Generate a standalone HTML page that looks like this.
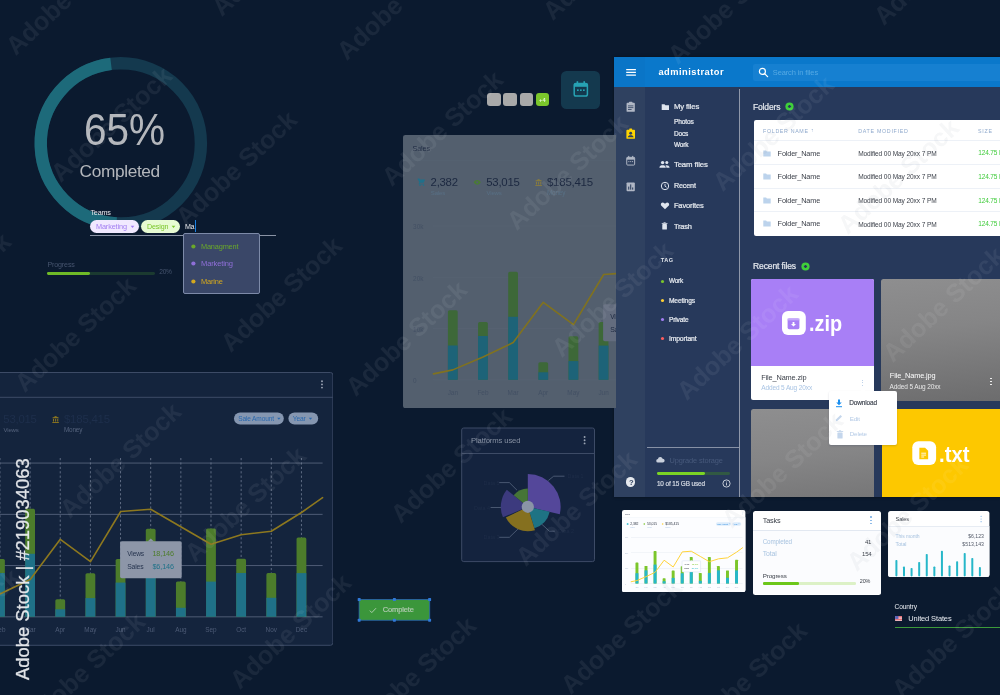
<!DOCTYPE html>
<html lang="en">
<head>
<meta charset="utf-8">
<title>Dashboard UI kit</title>
<style>
html,body{margin:0;padding:0;background:#0b1a2f;}
body{width:1000px;height:695px;overflow:hidden;font-family:"Liberation Sans",sans-serif;}
#root{position:relative;width:1000px;height:695px;overflow:hidden;background:#0b1a2f;}
.abs{position:absolute;display:block;}
.t{position:absolute;white-space:nowrap;font-family:"Liberation Sans",sans-serif;}
svg text{font-family:"Liberation Sans",sans-serif;}
.wm{position:absolute;z-index:10;width:200px;height:32px;text-align:center;white-space:nowrap;font-family:"Liberation Sans",sans-serif;font-weight:700;font-size:25.4px;line-height:32px;color:#ffffff;opacity:0.06;transform:rotate(-43deg);letter-spacing:-0.1px;pointer-events:none;}
.wd{color:#10203a;opacity:0.035;}
</style>
</head>
<body>
<div id="root">
<svg class="abs" style="left:0;top:0" width="260" height="260" viewBox="0 0 260 260"><circle cx="120.8" cy="143.4" r="80.1" fill="none" stroke="#14394e" stroke-width="12.4"/><path d="M116.61 223.39A80.10 80.10 0 0 1 111.04 63.90" fill="none" stroke="#1d6a7a" stroke-width="12.4"/></svg>
<div class="t" style="top:106px;font-size:43.50px;line-height:48px;color:#b4b7bc;left:84.10px;transform-origin:0 50%;transform:scaleX(0.932);">65%</div>
<div class="t" style="top:161px;font-size:17.25px;line-height:20px;color:#b4b7bc;left:79.60px;letter-spacing:-0.353px;">Completed</div>
<div class="t" style="top:208px;font-size:7.24px;line-height:9px;color:#e8eaee;left:90.40px;letter-spacing:-0.181px;">Teams</div>
<div class="abs" style="left:90.00px;top:219.60px;width:49.00px;height:13.60px;background:#f1e9ff;border-radius:6.8px;"></div>
<div class="t" style="top:222px;font-size:7.31px;line-height:9px;color:#a27ef2;left:96.00px;letter-spacing:-0.137px;">Marketing</div>
<svg class="abs" style="left:130px;top:225px" width="5" height="4" viewBox="0 0 5 4"><path d="M0.700 0.800h3.600l-1.800 2.200z" fill="#a27ef2"/></svg>
<div class="abs" style="left:141.00px;top:219.60px;width:39.00px;height:13.60px;background:#e7fbd2;border-radius:6.8px;"></div>
<div class="t" style="top:223px;font-size:7.15px;line-height:8px;color:#7bc62b;left:147.00px;letter-spacing:-0.151px;">Design</div>
<svg class="abs" style="left:171px;top:225px" width="5" height="4" viewBox="0 0 5 4"><path d="M0.700 0.800h3.600l-1.800 2.200z" fill="#7bc62b"/></svg>
<div class="t" style="top:223px;font-size:7.15px;line-height:8px;color:#e8eaee;left:185.00px;letter-spacing:-0.333px;">Ma</div>
<div class="abs" style="left:195.20px;top:219.80px;width:1.00px;height:12.60px;background:#1a80e0;"></div>
<div class="abs" style="left:90.00px;top:235.20px;width:186.00px;height:0.90px;background:#8a93a5;"></div>
<div class="abs" style="left:183.20px;top:233.20px;width:77.20px;height:60.60px;background:#3a4768;border:1px solid #7d8aa8;border-radius:2px;box-sizing:border-box;"></div>
<svg class="abs" style="left:190px;top:243.0px" width="7" height="7" viewBox="0 0 7 7"><circle cx="3.4" cy="3.500" r="2.100" fill="#6aa82a"/></svg>
<div class="t" style="top:242px;font-size:7.35px;line-height:9px;color:#6aa82a;left:201.00px;letter-spacing:-0.164px;">Managment</div>
<svg class="abs" style="left:190px;top:260.2px" width="7" height="7" viewBox="0 0 7 7"><circle cx="3.4" cy="3.500" r="2.100" fill="#8f6fd8"/></svg>
<div class="t" style="top:259px;font-size:7.54px;line-height:9px;color:#8f6fd8;left:201.00px;letter-spacing:-0.138px;">Marketing</div>
<svg class="abs" style="left:190px;top:277.6px" width="7" height="7" viewBox="0 0 7 7"><circle cx="3.4" cy="3.500" r="2.100" fill="#d4a81e"/></svg>
<div class="t" style="top:277px;font-size:7.45px;line-height:9px;color:#d4a81e;left:201.00px;letter-spacing:-0.155px;">Marine</div>
<div class="t" style="top:261px;font-size:7.11px;line-height:8px;color:#46546e;left:47.40px;letter-spacing:-0.136px;">Progress</div>
<div class="abs" style="left:47.40px;top:272.20px;width:108.00px;height:2.80px;background:#1b3a30;border-radius:1.4px;"></div>
<div class="abs" style="left:47.40px;top:272.20px;width:42.80px;height:2.80px;background:#6fba27;border-radius:1.4px;"></div>
<div class="t" style="top:268px;font-size:6.62px;line-height:7px;color:#46546e;left:159.20px;letter-spacing:-0.225px;">20%</div>
<div class="abs" style="left:487.10px;top:92.80px;width:13.80px;height:13.60px;background:#a9a9a9;border-radius:3px;"></div>
<div class="abs" style="left:503.30px;top:92.80px;width:13.80px;height:13.60px;background:#a9a9a9;border-radius:3px;"></div>
<div class="abs" style="left:519.50px;top:92.80px;width:13.80px;height:13.60px;background:#a9a9a9;border-radius:3px;"></div>
<div class="abs" style="left:535.70px;top:92.80px;width:13.60px;height:13.60px;background:#7bc62b;border-radius:3px;"></div>
<div class="t" style="top:97px;font-size:5.60px;line-height:6px;color:#e9f7d8;left:538.90px;letter-spacing:0.415px;font-weight:700;">+4</div>
<div class="abs" style="left:561.40px;top:70.70px;width:38.20px;height:38.20px;background:#14394e;border-radius:5.5px;"></div>
<svg class="abs" style="left:572px;top:80px" width="18" height="19" viewBox="0 0 18 19"><rect x="2.2" y="3.4" width="13.2" height="12.6" rx="1.8" fill="none" stroke="#27a2b3" stroke-width="1.5"/><rect x="2.2" y="3.4" width="13.2" height="3.4" fill="#27a2b3"/><rect x="4.6" y="1.2" width="1.6" height="3" fill="#27a2b3"/><rect x="11.4" y="1.2" width="1.6" height="3" fill="#27a2b3"/><rect x="5" y="9.4" width="1.7" height="1.6" fill="#27a2b3"/><rect x="8" y="9.4" width="1.7" height="1.6" fill="#27a2b3"/><rect x="11" y="9.4" width="1.7" height="1.6" fill="#27a2b3"/></svg>
<svg class="abs" style="left:-79.00px;top:372.30px" width="412.40" height="273.80" viewBox="0 0 412.4 273.8">
<rect x="0.5" y="0.5" width="411.4" height="272.8" rx="2.5" fill="#14243d" stroke="#3d4b66" stroke-width="1"/>
<text x="9.60" y="15.66" font-size="7.24" fill="#8b95a7" letter-spacing="-0.153">Sales</text>
<rect x="0" y="24.8" width="412.4" height="1" fill="#3d4b66"/>
<circle cx="401" cy="9.2" r="0.95" fill="#9aa3b3"/>
<circle cx="401" cy="12.4" r="0.95" fill="#9aa3b3"/>
<circle cx="401" cy="15.6" r="0.95" fill="#9aa3b3"/>
<g transform="translate(-1.0 0)">
<g fill="#1f6f86" transform="translate(18.6 47.2) scale(0.78) translate(-18.8 -47.2)"><path d="M14.2 42.4h1.9l0.6 1.5h6.6l-1.9 4.1h-4.4l-0.6 1.1h5.7v0.9h-6.3c-0.7 0-1-0.7-0.7-1.2l0.8-1.5-2-4h-0.9z"/><circle cx="16.7" cy="51.3" r="0.9"/><circle cx="21.3" cy="51.3" r="0.9"/></g>
<g transform="translate(74.2 47.3) scale(0.74) translate(-74.4 -47)"><path d="M69.6 47c1.1-2.2 2.9-3.2 4.8-3.2s3.7 1 4.8 3.2c-1.1 2.2-2.9 3.200-4.8 3.200s-3.700-1-4.800-3.200z" fill="#4a7a2c"/><circle cx="74.4" cy="47" r="1.500" fill="#14243d"/></g>
<g fill="#8a7420" transform="translate(135.6 47.400) scale(0.800) translate(-135.600 -47.300)"><path d="M131.500 45.200l4.100-2.300 4.100 2.300v0.800h-8.200z"/><rect x="132.300" y="46.600" width="1.300" height="3.400"/><rect x="134.950" y="46.600" width="1.300" height="3.400"/><rect x="137.600" y="46.600" width="1.300" height="3.400"/><rect x="131.500" y="50.600" width="8.200" height="1.200"/></g>
<text x="27.60" y="50.65" font-size="11.33" fill="#1e2f4c" letter-spacing="-0.238">2,382</text>
<text x="83.30" y="50.67" font-size="11.37" fill="#1e2f4c" letter-spacing="-0.235">53,015</text>
<text x="144.00" y="50.70" font-size="11.46" fill="#1e2f4c" letter-spacing="-0.229">$185,415</text>
<text x="27.80" y="60.04" font-size="6.00" fill="#55637d" letter-spacing="-0.127">Sales</text>
<text x="83.40" y="60.06" font-size="6.05" fill="#55637d" letter-spacing="-0.132">Views</text>
<text x="144.00" y="60.17" font-size="6.38" fill="#55637d" letter-spacing="-0.162">Money</text>
</g>
<rect x="313" y="40.4" width="49.8" height="12.2" rx="6.1" fill="#8596b0"/>
<rect x="367.4" y="40.4" width="29.8" height="12.2" rx="6.1" fill="#8596b0"/>
<text x="317.20" y="48.83" font-size="6.57" fill="#2a68ad" letter-spacing="-0.126">Sale Amount</text>
<text x="371.80" y="48.86" font-size="6.66" fill="#2a68ad" letter-spacing="-0.152">Year</text>
<path d="M356.2 45.8h3.4l-1.7 2z" fill="#2a68ad"/>
<path d="M387.8 45.8h3.4l-1.7 2z" fill="#2a68ad"/>
<rect x="30" y="90.60" width="371.6" height="0.9" fill="#55627b"/>
<text x="10.10" y="94.38" font-size="6.40" fill="#4d5b76">30k</text>
<rect x="30" y="141.87" width="371.6" height="0.9" fill="#55627b"/>
<text x="10.10" y="145.65" font-size="6.40" fill="#4d5b76">20k</text>
<rect x="30" y="193.14" width="371.6" height="0.9" fill="#55627b"/>
<text x="10.10" y="196.92" font-size="6.40" fill="#4d5b76">10k</text>
<rect x="30" y="244.41" width="371.6" height="0.9" fill="#55627b"/>
<text x="10.10" y="248.19" font-size="6.40" fill="#4d5b76">0</text>
<line x1="48.80" y1="86" x2="48.80" y2="244.8" stroke="#717d94" stroke-width="0.8" stroke-dasharray="2.2 2.2"/>
<line x1="78.95" y1="86" x2="78.95" y2="244.8" stroke="#717d94" stroke-width="0.8" stroke-dasharray="2.2 2.2"/>
<line x1="109.10" y1="86" x2="109.10" y2="244.8" stroke="#717d94" stroke-width="0.8" stroke-dasharray="2.2 2.2"/>
<line x1="139.25" y1="86" x2="139.25" y2="244.8" stroke="#717d94" stroke-width="0.8" stroke-dasharray="2.2 2.2"/>
<line x1="169.40" y1="86" x2="169.40" y2="244.8" stroke="#717d94" stroke-width="0.8" stroke-dasharray="2.2 2.2"/>
<line x1="199.55" y1="86" x2="199.55" y2="244.8" stroke="#717d94" stroke-width="0.8" stroke-dasharray="2.2 2.2"/>
<line x1="229.70" y1="86" x2="229.70" y2="244.8" stroke="#717d94" stroke-width="0.8" stroke-dasharray="2.2 2.2"/>
<line x1="259.85" y1="86" x2="259.85" y2="244.8" stroke="#717d94" stroke-width="0.8" stroke-dasharray="2.2 2.2"/>
<line x1="290.00" y1="86" x2="290.00" y2="244.8" stroke="#717d94" stroke-width="0.8" stroke-dasharray="2.2 2.2"/>
<line x1="320.15" y1="86" x2="320.15" y2="244.8" stroke="#717d94" stroke-width="0.8" stroke-dasharray="2.2 2.2"/>
<line x1="350.30" y1="86" x2="350.30" y2="244.8" stroke="#717d94" stroke-width="0.8" stroke-dasharray="2.2 2.2"/>
<line x1="380.45" y1="86" x2="380.45" y2="244.8" stroke="#717d94" stroke-width="0.8" stroke-dasharray="2.2 2.2"/>
<path d="M43.90 244.80v-68.00a1.6 1.6 0 0 1 1.6-1.6h6.60a1.6 1.6 0 0 1 1.6 1.6v68.00z" fill="#4c7c2b"/>
<rect x="43.90" y="210.50" width="9.80" height="34.30" fill="#1f7188"/>
<path d="M74.05 244.80v-56.30a1.6 1.6 0 0 1 1.6-1.6h6.60a1.6 1.6 0 0 1 1.6 1.6v56.30z" fill="#4c7c2b"/>
<rect x="74.05" y="201.00" width="9.80" height="43.80" fill="#1f7188"/>
<path d="M104.20 244.80v-106.40a1.6 1.6 0 0 1 1.6-1.6h6.60a1.6 1.6 0 0 1 1.6 1.6v106.40z" fill="#4c7c2b"/>
<rect x="104.20" y="181.80" width="9.80" height="63.00" fill="#1f7188"/>
<path d="M134.35 244.80v-16.00a1.6 1.6 0 0 1 1.6-1.6h6.60a1.6 1.6 0 0 1 1.6 1.6v16.00z" fill="#4c7c2b"/>
<rect x="134.35" y="237.30" width="9.80" height="7.50" fill="#1f7188"/>
<path d="M164.50 244.80v-42.00a1.6 1.6 0 0 1 1.6-1.6h6.60a1.6 1.6 0 0 1 1.6 1.6v42.00z" fill="#4c7c2b"/>
<rect x="164.50" y="226.10" width="9.80" height="18.70" fill="#1f7188"/>
<path d="M194.65 244.80v-56.20a1.6 1.6 0 0 1 1.6-1.6h6.60a1.6 1.6 0 0 1 1.6 1.6v56.20z" fill="#4c7c2b"/>
<rect x="194.65" y="210.60" width="9.80" height="34.20" fill="#1f7188"/>
<path d="M224.80 244.80v-86.40a1.6 1.6 0 0 1 1.6-1.6h6.60a1.6 1.6 0 0 1 1.6 1.6v86.40z" fill="#4c7c2b"/>
<rect x="224.80" y="205.80" width="9.80" height="39.00" fill="#1f7188"/>
<path d="M254.95 244.80v-33.70a1.6 1.6 0 0 1 1.6-1.6h6.60a1.6 1.6 0 0 1 1.6 1.6v33.70z" fill="#4c7c2b"/>
<rect x="254.95" y="235.80" width="9.80" height="9.00" fill="#1f7188"/>
<path d="M285.10 244.80v-86.70a1.6 1.6 0 0 1 1.6-1.6h6.60a1.6 1.6 0 0 1 1.6 1.6v86.70z" fill="#4c7c2b"/>
<rect x="285.10" y="209.60" width="9.80" height="35.20" fill="#1f7188"/>
<path d="M315.25 244.80v-56.40a1.6 1.6 0 0 1 1.6-1.6h6.60a1.6 1.6 0 0 1 1.6 1.6v56.40z" fill="#4c7c2b"/>
<rect x="315.25" y="201.00" width="9.80" height="43.80" fill="#1f7188"/>
<path d="M345.40 244.80v-42.10a1.6 1.6 0 0 1 1.6-1.6h6.60a1.6 1.6 0 0 1 1.6 1.6v42.10z" fill="#4c7c2b"/>
<rect x="345.40" y="225.80" width="9.80" height="19.00" fill="#1f7188"/>
<path d="M375.55 244.80v-77.80a1.6 1.6 0 0 1 1.6-1.6h6.60a1.6 1.6 0 0 1 1.6 1.6v77.80z" fill="#4c7c2b"/>
<rect x="375.55" y="201.10" width="9.80" height="43.70" fill="#1f7188"/>
<text x="48.80" y="259.78" font-size="6.40" fill="#4d5b76" text-anchor="middle">Jan</text>
<text x="78.95" y="259.78" font-size="6.40" fill="#4d5b76" text-anchor="middle">Feb</text>
<text x="109.10" y="259.78" font-size="6.40" fill="#4d5b76" text-anchor="middle">Mar</text>
<text x="139.25" y="259.78" font-size="6.40" fill="#4d5b76" text-anchor="middle">Apr</text>
<text x="169.40" y="259.78" font-size="6.40" fill="#4d5b76" text-anchor="middle">May</text>
<text x="199.55" y="259.78" font-size="6.40" fill="#4d5b76" text-anchor="middle">Jun</text>
<text x="229.70" y="259.78" font-size="6.40" fill="#4d5b76" text-anchor="middle">Jul</text>
<text x="259.85" y="259.78" font-size="6.40" fill="#4d5b76" text-anchor="middle">Aug</text>
<text x="290.00" y="259.78" font-size="6.40" fill="#4d5b76" text-anchor="middle">Sep</text>
<text x="320.15" y="259.78" font-size="6.40" fill="#4d5b76" text-anchor="middle">Oct</text>
<text x="350.30" y="259.78" font-size="6.40" fill="#4d5b76" text-anchor="middle">Nov</text>
<text x="380.45" y="259.78" font-size="6.40" fill="#4d5b76" text-anchor="middle">Dec</text>
<polyline points="30.5,238.9 48.8,234.9 79.0,222.0 109.2,207.6 139.3,167.3 169.5,189.7 199.7,139.5 229.7,137.3 259.8,154.7 290.0,172.2 320.1,162.7 350.3,159.3 380.5,140.5 401.6,125.7" fill="none" stroke="#8d781f" stroke-width="1.6" stroke-linejoin="round" stroke-linecap="round"/>
<path d="M226.6 169.4l3.2-3 3.2 3z" fill="#8d96a8"/>
<rect x="199.1" y="169.2" width="61.6" height="37" rx="1.8" fill="#8d96a8"/>
<text x="206.20" y="183.86" font-size="6.64" fill="#26344e" letter-spacing="-0.148">Views</text>
<text x="206.20" y="196.92" font-size="6.83" fill="#26344e" letter-spacing="-0.146">Sales</text>
<text x="231.50" y="184.08" font-size="7.28" fill="#4d7c2b" letter-spacing="-0.153">18,146</text>
<text x="231.50" y="197.08" font-size="7.28" fill="#1f7289" letter-spacing="-0.153">$6,146</text>
</svg>
<svg class="abs" style="left:403.20px;top:135.10px;z-index:3" width="213.00" height="273.20" viewBox="0 0 213.0 273.2">
<rect x="0" y="0" width="411.0" height="273.2" rx="2.5" fill="#535f6e"/>
<text x="9.60" y="15.66" font-size="7.24" fill="#1c2840" letter-spacing="-0.153">Sales</text>
<rect x="0" y="24.8" width="411.0" height="1" fill="#566271"/>
<circle cx="401" cy="9.2" r="0.95" fill="#535f6e"/>
<circle cx="401" cy="12.4" r="0.95" fill="#535f6e"/>
<circle cx="401" cy="15.6" r="0.95" fill="#535f6e"/>
<g transform="translate(0.0 0)">
<g fill="#21708a" transform="translate(18.6 47.2) scale(0.78) translate(-18.8 -47.2)"><path d="M14.2 42.4h1.9l0.6 1.5h6.6l-1.9 4.1h-4.4l-0.6 1.1h5.7v0.9h-6.3c-0.7 0-1-0.7-0.7-1.2l0.8-1.5-2-4h-0.9z"/><circle cx="16.7" cy="51.3" r="0.9"/><circle cx="21.3" cy="51.3" r="0.9"/></g>
<g transform="translate(74.2 47.3) scale(0.74) translate(-74.4 -47)"><path d="M69.6 47c1.1-2.2 2.9-3.2 4.8-3.2s3.7 1 4.8 3.2c-1.1 2.2-2.9 3.200-4.8 3.200s-3.700-1-4.800-3.200z" fill="#4b7b35"/><circle cx="74.4" cy="47" r="1.500" fill="#535f6e"/></g>
<g fill="#877b40" transform="translate(135.6 47.400) scale(0.800) translate(-135.600 -47.300)"><path d="M131.500 45.200l4.100-2.300 4.100 2.300v0.800h-8.200z"/><rect x="132.300" y="46.600" width="1.300" height="3.400"/><rect x="134.950" y="46.600" width="1.300" height="3.400"/><rect x="137.600" y="46.600" width="1.300" height="3.400"/><rect x="131.500" y="50.600" width="8.200" height="1.200"/></g>
<text x="27.60" y="50.65" font-size="11.33" fill="#1c2840" letter-spacing="-0.238">2,382</text>
<text x="83.30" y="50.67" font-size="11.37" fill="#1c2840" letter-spacing="-0.235">53,015</text>
<text x="144.00" y="50.70" font-size="11.46" fill="#1c2840" letter-spacing="-0.229">$185,415</text>
<text x="27.80" y="60.04" font-size="6.00" fill="#587085" letter-spacing="-0.127">Sales</text>
<text x="83.40" y="60.06" font-size="6.05" fill="#587085" letter-spacing="-0.132">Views</text>
<text x="144.00" y="60.17" font-size="6.38" fill="#587085" letter-spacing="-0.162">Money</text>
</g>
<rect x="30" y="90.60" width="371.6" height="0.8" fill="#576373"/>
<text x="10.10" y="94.38" font-size="6.40" fill="#435064">30k</text>
<rect x="30" y="141.87" width="371.6" height="0.8" fill="#576373"/>
<text x="10.10" y="145.65" font-size="6.40" fill="#435064">20k</text>
<rect x="30" y="193.14" width="371.6" height="0.8" fill="#576373"/>
<text x="10.10" y="196.92" font-size="6.40" fill="#435064">10k</text>
<rect x="30" y="244.41" width="371.6" height="0.8" fill="#576373"/>
<text x="10.10" y="248.19" font-size="6.40" fill="#435064">0</text>
<path d="M44.90 244.80v-68.00a1.6 1.6 0 0 1 1.6-1.6h6.60a1.6 1.6 0 0 1 1.6 1.6v68.00z" fill="#3d6838"/>
<rect x="44.90" y="210.50" width="9.80" height="34.30" fill="#1d6378"/>
<path d="M75.05 244.80v-56.30a1.6 1.6 0 0 1 1.6-1.6h6.60a1.6 1.6 0 0 1 1.6 1.6v56.30z" fill="#3d6838"/>
<rect x="75.05" y="201.00" width="9.80" height="43.80" fill="#1d6378"/>
<path d="M105.20 244.80v-106.40a1.6 1.6 0 0 1 1.6-1.6h6.60a1.6 1.6 0 0 1 1.6 1.6v106.40z" fill="#3d6838"/>
<rect x="105.20" y="181.80" width="9.80" height="63.00" fill="#1d6378"/>
<path d="M135.35 244.80v-16.00a1.6 1.6 0 0 1 1.6-1.6h6.60a1.6 1.6 0 0 1 1.6 1.6v16.00z" fill="#3d6838"/>
<rect x="135.35" y="237.30" width="9.80" height="7.50" fill="#1d6378"/>
<path d="M165.50 244.80v-42.00a1.6 1.6 0 0 1 1.6-1.6h6.60a1.6 1.6 0 0 1 1.6 1.6v42.00z" fill="#3d6838"/>
<rect x="165.50" y="226.10" width="9.80" height="18.70" fill="#1d6378"/>
<path d="M195.65 244.80v-56.20a1.6 1.6 0 0 1 1.6-1.6h6.60a1.6 1.6 0 0 1 1.6 1.6v56.20z" fill="#3d6838"/>
<rect x="195.65" y="210.60" width="9.80" height="34.20" fill="#1d6378"/>
<path d="M225.80 244.80v-86.40a1.6 1.6 0 0 1 1.6-1.6h6.60a1.6 1.6 0 0 1 1.6 1.6v86.40z" fill="#3d6838"/>
<rect x="225.80" y="205.80" width="9.80" height="39.00" fill="#1d6378"/>
<path d="M255.95 244.80v-33.70a1.6 1.6 0 0 1 1.6-1.6h6.60a1.6 1.6 0 0 1 1.6 1.6v33.70z" fill="#3d6838"/>
<rect x="255.95" y="235.80" width="9.80" height="9.00" fill="#1d6378"/>
<path d="M286.10 244.80v-86.70a1.6 1.6 0 0 1 1.6-1.6h6.60a1.6 1.6 0 0 1 1.6 1.6v86.70z" fill="#3d6838"/>
<rect x="286.10" y="209.60" width="9.80" height="35.20" fill="#1d6378"/>
<path d="M316.25 244.80v-56.40a1.6 1.6 0 0 1 1.6-1.6h6.60a1.6 1.6 0 0 1 1.6 1.6v56.40z" fill="#3d6838"/>
<rect x="316.25" y="201.00" width="9.80" height="43.80" fill="#1d6378"/>
<path d="M346.40 244.80v-42.10a1.6 1.6 0 0 1 1.6-1.6h6.60a1.6 1.6 0 0 1 1.6 1.6v42.10z" fill="#3d6838"/>
<rect x="346.40" y="225.80" width="9.80" height="19.00" fill="#1d6378"/>
<path d="M376.55 244.80v-77.80a1.6 1.6 0 0 1 1.6-1.6h6.60a1.6 1.6 0 0 1 1.6 1.6v77.80z" fill="#3d6838"/>
<rect x="376.55" y="201.10" width="9.80" height="43.70" fill="#1d6378"/>
<text x="49.80" y="259.78" font-size="6.40" fill="#435064" text-anchor="middle">Jan</text>
<text x="79.95" y="259.78" font-size="6.40" fill="#435064" text-anchor="middle">Feb</text>
<text x="110.10" y="259.78" font-size="6.40" fill="#435064" text-anchor="middle">Mar</text>
<text x="140.25" y="259.78" font-size="6.40" fill="#435064" text-anchor="middle">Apr</text>
<text x="170.40" y="259.78" font-size="6.40" fill="#435064" text-anchor="middle">May</text>
<text x="200.55" y="259.78" font-size="6.40" fill="#435064" text-anchor="middle">Jun</text>
<text x="230.70" y="259.78" font-size="6.40" fill="#435064" text-anchor="middle">Jul</text>
<text x="260.85" y="259.78" font-size="6.40" fill="#435064" text-anchor="middle">Aug</text>
<text x="291.00" y="259.78" font-size="6.40" fill="#435064" text-anchor="middle">Sep</text>
<text x="321.15" y="259.78" font-size="6.40" fill="#435064" text-anchor="middle">Oct</text>
<text x="351.30" y="259.78" font-size="6.40" fill="#435064" text-anchor="middle">Nov</text>
<text x="381.45" y="259.78" font-size="6.40" fill="#435064" text-anchor="middle">Dec</text>
<polyline points="30.5,238.9 49.8,234.9 80.0,222.0 110.2,207.6 140.3,167.3 170.5,189.7 200.7,139.5 230.7,137.3 260.8,154.7 291.0,172.2 321.1,162.7 351.3,159.3 381.5,140.5 401.6,125.7" fill="none" stroke="#80721f" stroke-width="1.6" stroke-linejoin="round" stroke-linecap="round"/>
<path d="M227.6 169.4l3.2-3 3.2 3z" fill="#636c7e"/>
<rect x="200.1" y="169.2" width="61.6" height="37" rx="1.8" fill="#636c7e"/>
<text x="207.20" y="183.86" font-size="6.64" fill="#1c2840" letter-spacing="-0.148">Views</text>
<text x="207.20" y="196.92" font-size="6.83" fill="#1c2840" letter-spacing="-0.146">Sales</text>
<text x="232.50" y="184.08" font-size="7.28" fill="#3e6939" letter-spacing="-0.153">18,146</text>
<text x="232.50" y="197.08" font-size="7.28" fill="#1e657a" letter-spacing="-0.153">$6,146</text>
</svg>
<svg class="abs" style="left:461px;top:427px" width="135" height="136" viewBox="461 427 135 136">
<rect x="461.7" y="428" width="132.8" height="133.6" rx="2" fill="#14233e" stroke="#3d4b66" stroke-width="1"/>
<rect x="461.7" y="453" width="132.8" height="1" fill="#3d4b66"/>
<text x="471.00" y="442.82" font-size="7.70" fill="#858fa1" letter-spacing="-0.135">Platforms used</text>
<circle cx="584.6" cy="437.0" r="0.95" fill="#9aa3b3"/>
<circle cx="584.6" cy="440.2" r="0.95" fill="#9aa3b3"/>
<circle cx="584.6" cy="443.4" r="0.95" fill="#9aa3b3"/>
<g fill="none" stroke="#56647e" stroke-width="0.8"><polyline points="548.3,480.5 553.7,476.2 564.5,476.2"/><polyline points="517,490.2 509.4,482.6 499.2,482.6"/><polyline points="501.8,507.5 490.6,507.5"/><polyline points="518,529 509.4,537.3 499.2,537.3"/><polyline points="540.7,523.2 549.4,531.2 554.8,531.2"/></g>
<path d="M527.80 506.80L527.80 474.00A32.80 32.80 0 0 1 559.76 514.18Z" fill="#54479a"/>
<path d="M527.80 506.80L549.72 511.86A22.50 22.50 0 0 1 534.38 528.32Z" fill="#1e7384"/>
<path d="M527.80 506.80L534.93 530.13A24.40 24.40 0 0 1 505.87 517.50Z" fill="#85701f"/>
<path d="M527.80 506.80L502.95 517.35A27.00 27.00 0 0 1 506.82 489.81Z" fill="#3c3a7e"/>
<path d="M527.80 506.80L513.66 495.35A18.20 18.20 0 0 1 527.80 488.60Z" fill="#467537"/>
<circle cx="527.8" cy="506.8" r="6.1" fill="#8a94a6"/>
<text x="567.50" y="478.44" font-size="5.40" fill="#1e2d48">Data 1</text>
<text x="483.50" y="484.64" font-size="5.40" fill="#1e2d48">Data 5</text>
<text x="474.00" y="509.64" font-size="5.40" fill="#1e2d48">Data 4</text>
<text x="483.50" y="539.14" font-size="5.40" fill="#1e2d48">Data 3</text>
<text x="558.00" y="533.44" font-size="5.40" fill="#1e2d48">Data 2</text>
</svg>
<svg class="abs" style="left:356px;top:597px" width="77" height="27" viewBox="356 597 77 27"><rect x="359.100" y="599.500" width="70.600" height="20.800" rx="1.800" fill="#3b963b" stroke="#2c6ac4" stroke-width="0.700"/><rect x="357.7" y="598.1" width="3" height="3" rx="0.700" fill="#3079d8"/><rect x="357.7" y="618.7" width="3" height="3" rx="0.700" fill="#3079d8"/><rect x="392.9" y="598.1" width="3" height="3" rx="0.700" fill="#3079d8"/><rect x="392.9" y="618.7" width="3" height="3" rx="0.700" fill="#3079d8"/><rect x="428.1" y="598.1" width="3" height="3" rx="0.700" fill="#3079d8"/><rect x="428.1" y="618.7" width="3" height="3" rx="0.700" fill="#3079d8"/></svg>
<svg class="abs" style="left:368.6px;top:606.6px" width="8" height="7" viewBox="0 0 8 7"><path d="M0.8 3.6l2 2 4.2-4.4" fill="none" stroke="#b6d2b6" stroke-width="0.9"/></svg>
<div class="t" style="top:605px;font-size:7.50px;line-height:9px;color:#b0c9b0;left:382.80px;letter-spacing:-0.157px;-webkit-text-stroke:0.2px #b0c9b0;">Complete</div>
<div class="abs" style="left:614.00px;top:57.00px;width:386.00px;height:439.60px;background:#27395b;box-shadow:0 0 3px rgba(0,0,0,0.4);"></div>
<div class="abs" style="left:614.00px;top:57.00px;width:386.00px;height:30.00px;background:#0a78cb;"></div>
<div class="abs" style="left:614.00px;top:57.00px;width:31.00px;height:30.00px;background:#0a75c7;"></div>
<div class="abs" style="left:614.00px;top:87.00px;width:31.00px;height:409.60px;background:#2f4160;"></div>
<div class="abs" style="left:739.00px;top:88.50px;width:1.00px;height:408.10px;background:#8e97a9;"></div>
<svg class="abs" style="left:625px;top:67px" width="12" height="11" viewBox="625 67 12 11"><path d="M626.2 69.7h9.700M626.2 72.4h9.700M626.2 75.1h9.700" stroke="#fff" stroke-width="1.250"/></svg>
<div class="t" style="top:67px;font-size:9.30px;line-height:10px;color:#ffffff;left:658.40px;letter-spacing:0.481px;font-weight:700;">administrator</div>
<div class="abs" style="left:753.40px;top:63.70px;width:247.00px;height:17.10px;background:#1680d1;border-radius:2px 0 0 2px;"></div>
<svg class="abs" style="left:758px;top:67px" width="11" height="11" viewBox="0 0 11 11"><circle cx="4.4" cy="4.4" r="3" fill="none" stroke="#fff" stroke-width="1.2"/><path d="M6.6 6.6l3 3" stroke="#fff" stroke-width="1.3" stroke-linecap="round"/></svg>
<div class="t" style="top:68px;font-size:7.48px;line-height:9px;color:#55a9e4;left:772.80px;letter-spacing:-0.113px;">Search in files</div>
<svg class="abs" style="left:625.1px;top:100.9px" width="11.400" height="11.700" viewBox="0 0 12 13"><rect x="1.4" y="2" width="9.2" height="10" rx="1" fill="#b0b7c5"/><rect x="4" y="0.8" width="4" height="2.4" rx="0.8" fill="#b0b7c5"/><rect x="3" y="5" width="6" height="0.9" fill="#2f4160"/><rect x="3" y="7" width="6" height="0.9" fill="#2f4160"/><rect x="3" y="9" width="4" height="0.9" fill="#2f4160"/></svg>
<svg class="abs" style="left:625.1px;top:127.6px" width="11.400" height="11.700" viewBox="0 0 12 13"><rect x="1.2" y="2" width="9.6" height="10" rx="1" fill="#ffd400"/><rect x="4.4" y="0.6" width="3.2" height="2.4" rx="0.6" fill="#ffd400"/><circle cx="6" cy="5.8" r="1.6" fill="#2f4160"/><path d="M2.8 10.4c0-1.8 1.6-2.4 3.2-2.4s3.2 0.6 3.2 2.4z" fill="#2f4160"/></svg>
<svg class="abs" style="left:625.1px;top:154.6px" width="11.400" height="11.700" viewBox="0 0 12 13"><rect x="1.6" y="2.6" width="8.8" height="8.6" rx="1" fill="none" stroke="#b0b7c5" stroke-width="1.1"/><rect x="1.6" y="2.6" width="8.8" height="2.6" fill="#b0b7c5"/><rect x="3.2" y="1" width="1.2" height="2.2" fill="#b0b7c5"/><rect x="7.6" y="1" width="1.2" height="2.2" fill="#b0b7c5"/><rect x="3.4" y="6.8" width="1.1" height="1.1" fill="#b0b7c5"/><rect x="5.45" y="6.8" width="1.1" height="1.1" fill="#b0b7c5"/><rect x="7.5" y="6.8" width="1.1" height="1.1" fill="#b0b7c5"/></svg>
<svg class="abs" style="left:625.1px;top:180.6px" width="11.400" height="11.700" viewBox="0 0 12 13"><rect x="1.4" y="1.6" width="9.2" height="9.8" rx="1" fill="#b0b7c5"/><rect x="3.2" y="6.2" width="1.2" height="3.4" fill="#2f4160"/><rect x="5.4" y="3.8" width="1.2" height="5.8" fill="#2f4160"/><rect x="7.6" y="7.2" width="1.2" height="2.4" fill="#2f4160"/></svg>
<div class="abs" style="left:626.2px;top:477.4px;width:9.2px;height:9.2px;border-radius:50%;background:#e6e9ee;"></div>
<div class="t" style="top:478px;font-size:7.60px;line-height:9px;color:#2f4160;left:629.00px;font-weight:700;">?</div>
<svg class="abs" style="left:660.6px;top:102.8px" width="8.800" height="8" viewBox="0 0 10 9"><path d="M0.8 1.4h3.2l1 1h4.2v5.4h-8.4z" fill="#dfe5ef"/></svg>
<div class="t" style="top:102px;font-size:7.76px;line-height:9px;color:#e4e8ee;left:673.90px;letter-spacing:-0.129px;-webkit-text-stroke:0.22px #e4e8ee;">My files</div>
<div class="t" style="top:118px;font-size:6.65px;line-height:7px;color:#e4e8ee;left:673.90px;letter-spacing:-0.141px;-webkit-text-stroke:0.22px #e4e8ee;">Photos</div>
<div class="t" style="top:130px;font-size:6.54px;line-height:7px;color:#e4e8ee;left:673.90px;letter-spacing:-0.167px;-webkit-text-stroke:0.22px #e4e8ee;">Docs</div>
<div class="t" style="top:141px;font-size:6.53px;line-height:7px;color:#e4e8ee;left:673.90px;letter-spacing:-0.172px;-webkit-text-stroke:0.22px #e4e8ee;">Work</div>
<svg class="abs" style="left:659.4px;top:160px" width="11" height="9" viewBox="0 0 11 9"><circle cx="3.6" cy="2.6" r="1.7" fill="#dfe5ef"/><circle cx="7.8" cy="2.6" r="1.5" fill="#dfe5ef"/><path d="M0.4 7.8c0-2 1.6-2.6 3.2-2.6s3.2 0.6 3.2 2.6z" fill="#dfe5ef"/><path d="M7.4 7.8c0-1.2-0.4-2-1-2.5 1.8-0.4 4.2 0.2 4.2 2.5z" fill="#dfe5ef"/></svg>
<div class="t" style="top:160px;font-size:7.82px;line-height:9px;color:#e4e8ee;left:673.90px;letter-spacing:-0.134px;-webkit-text-stroke:0.22px #e4e8ee;">Team files</div>
<svg class="abs" style="left:660px;top:180.6px" width="10" height="10" viewBox="0 0 10 10"><circle cx="5" cy="5" r="3.7" fill="none" stroke="#dfe5ef" stroke-width="1"/><path d="M5 2.8v2.4l1.6 1" fill="none" stroke="#dfe5ef" stroke-width="0.9"/></svg>
<div class="t" style="top:181px;font-size:7.22px;line-height:9px;color:#e4e8ee;left:673.90px;letter-spacing:-0.155px;-webkit-text-stroke:0.22px #e4e8ee;">Recent</div>
<svg class="abs" style="left:660px;top:201.4px" width="10" height="9" viewBox="0 0 10 9"><path d="M5 8.2l-3.6-3.4c-1.6-1.8 0.6-4.4 3-2.6l0.6 0.5 0.6-0.5c2.4-1.8 4.600 0.800 3 2.6z" fill="#dfe5ef"/></svg>
<div class="t" style="top:201px;font-size:7.50px;line-height:9px;color:#e4e8ee;left:673.90px;letter-spacing:-0.130px;-webkit-text-stroke:0.22px #e4e8ee;">Favorites</div>
<svg class="abs" style="left:661.2px;top:222.2px" width="7.200" height="8" viewBox="0 0 9 10"><rect x="1.6" y="2.6" width="5.8" height="6.8" rx="0.8" fill="#dfe5ef"/><rect x="0.9" y="1.2" width="7.2" height="1" fill="#dfe5ef"/><rect x="3.2" y="0.4" width="2.6" height="1" fill="#dfe5ef"/></svg>
<div class="t" style="top:222px;font-size:7.44px;line-height:9px;color:#e4e8ee;left:673.90px;letter-spacing:-0.161px;-webkit-text-stroke:0.22px #e4e8ee;">Trash</div>
<div class="t" style="top:257px;font-size:5.60px;line-height:6px;color:#e2e6ec;left:660.80px;letter-spacing:0.497px;font-weight:700;">TAG</div>
<svg class="abs" style="left:660px;top:278.7px" width="5" height="5" viewBox="0 0 5 5"><circle cx="2.5" cy="2.5" r="1.55" fill="#7bc62b"/></svg>
<div class="t" style="top:277px;font-size:6.44px;line-height:7px;color:#e4e8ee;left:668.90px;letter-spacing:-0.170px;-webkit-text-stroke:0.22px #e4e8ee;">Work</div>
<svg class="abs" style="left:660px;top:298.0px" width="5" height="5" viewBox="0 0 5 5"><circle cx="2.5" cy="2.5" r="1.55" fill="#ffcf33"/></svg>
<div class="t" style="top:297px;font-size:6.68px;line-height:7px;color:#e4e8ee;left:668.90px;letter-spacing:-0.129px;-webkit-text-stroke:0.22px #e4e8ee;">Meetings</div>
<svg class="abs" style="left:660px;top:316.8px" width="5" height="5" viewBox="0 0 5 5"><circle cx="2.5" cy="2.5" r="1.55" fill="#a27ef2"/></svg>
<div class="t" style="top:316px;font-size:6.55px;line-height:7px;color:#e4e8ee;left:668.90px;letter-spacing:-0.114px;-webkit-text-stroke:0.22px #e4e8ee;">Private</div>
<svg class="abs" style="left:660px;top:335.8px" width="5" height="5" viewBox="0 0 5 5"><circle cx="2.5" cy="2.5" r="1.55" fill="#ff5d5d"/></svg>
<div class="t" style="top:335px;font-size:6.81px;line-height:7px;color:#e4e8ee;left:668.90px;letter-spacing:-0.121px;-webkit-text-stroke:0.22px #e4e8ee;">Important</div>
<div class="abs" style="left:647.00px;top:446.90px;width:92.00px;height:1.00px;background:#8791a5;"></div>
<svg class="abs" style="left:656.4px;top:457.3px" width="8.700" height="6.100" viewBox="0 0 10 7"><path d="M2.4 6.4a2 2 0 0 1-0.2-4 2.8 2.8 0 0 1 5.400-0.400 2.200 2.200 0 0 1 0.200 4.400z" fill="#c9d0dc"/></svg>
<div class="t" style="top:456px;font-size:7.42px;line-height:9px;color:#47597b;left:669.60px;letter-spacing:-0.134px;">Upgrade storage</div>
<div class="abs" style="left:656.80px;top:472.00px;width:73.20px;height:2.80px;background:#315943;border-radius:1.4px;"></div>
<div class="abs" style="left:656.80px;top:472.00px;width:48.20px;height:2.80px;background:#7bd425;border-radius:1.4px;"></div>
<div class="t" style="top:480px;font-size:6.42px;line-height:7px;color:#d5dae3;left:656.90px;letter-spacing:-0.111px;-webkit-text-stroke:0.2px #d5dae3;">10 of 15 GB used</div>
<svg class="abs" style="left:721.6px;top:479.1px" width="9" height="9" viewBox="0 0 9 9"><circle cx="4.500" cy="4.500" r="3.600" fill="none" stroke="#d5dae3" stroke-width="0.900"/><rect x="4.050" y="4.100" width="0.900" height="2.300" fill="#d5dae3"/><rect x="4.050" y="2.600" width="0.900" height="0.900" fill="#d5dae3"/></svg>
<div class="t" style="top:102px;font-size:8.50px;line-height:10px;color:#e4e8ee;left:753.00px;letter-spacing:-0.157px;-webkit-text-stroke:0.22px #e4e8ee;">Folders</div>
<svg class="abs" style="left:785.20px;top:102.00px" width="9" height="9" viewBox="0 0 9 9"><circle cx="4.500" cy="4.500" r="4.100" fill="#3fd13a"/><path d="M4.500 2.900v3.200M2.900 4.500h3.200" stroke="#27395b" stroke-width="1.300"/></svg>
<div class="abs" style="left:753.50px;top:120.00px;width:260.00px;height:115.60px;background:#ffffff;border-radius:2px;"></div>
<div class="t" style="top:128px;font-size:5.30px;line-height:6px;color:#8fa9cc;left:763.10px;letter-spacing:0.662px;">FOLDER NAME</div>
<div class="t" style="top:127px;font-size:5.00px;line-height:6px;color:#8fa9cc;left:811.00px;">↑</div>
<div class="t" style="top:128px;font-size:5.30px;line-height:6px;color:#8fa9cc;left:858.20px;letter-spacing:0.706px;">DATE MODIFIED</div>
<div class="t" style="top:128px;font-size:5.30px;line-height:6px;color:#8fa9cc;left:978.00px;letter-spacing:0.740px;">SIZE</div>
<div class="abs" style="left:753.50px;top:140.20px;width:250.00px;height:1.00px;background:#edf1f7;"></div>
<svg class="abs" style="left:763.00px;top:149.50px" width="8" height="7" viewBox="0 0 8 7"><path d="M0.3 0.6h2.800l0.800 0.900h3.800v4.900h-7.400z" fill="#bcd3ec"/></svg>
<div class="t" style="top:149px;font-size:7.29px;line-height:9px;color:#3a3f48;left:777.60px;letter-spacing:-0.147px;">Folder_Name</div>
<div class="t" style="top:150px;font-size:6.59px;line-height:7px;color:#3a3f48;left:858.20px;letter-spacing:-0.113px;">Modified 00 May 20xx 7 PM</div>
<div class="t" style="top:149px;font-size:6.51px;line-height:7px;color:#3fcb3a;left:978.20px;letter-spacing:-0.136px;">124.75 MB</div>
<div class="abs" style="left:753.50px;top:163.70px;width:250.00px;height:1.00px;background:#edf1f7;"></div>
<svg class="abs" style="left:763.00px;top:173.00px" width="8" height="7" viewBox="0 0 8 7"><path d="M0.3 0.6h2.800l0.800 0.900h3.800v4.900h-7.400z" fill="#bcd3ec"/></svg>
<div class="t" style="top:172px;font-size:7.29px;line-height:9px;color:#3a3f48;left:777.60px;letter-spacing:-0.147px;">Folder_Name</div>
<div class="t" style="top:173px;font-size:6.59px;line-height:7px;color:#3a3f48;left:858.20px;letter-spacing:-0.113px;">Modified 00 May 20xx 7 PM</div>
<div class="t" style="top:173px;font-size:6.51px;line-height:7px;color:#3fcb3a;left:978.20px;letter-spacing:-0.136px;">124.75 MB</div>
<div class="abs" style="left:753.50px;top:187.50px;width:250.00px;height:1.00px;background:#edf1f7;"></div>
<svg class="abs" style="left:763.00px;top:196.80px" width="8" height="7" viewBox="0 0 8 7"><path d="M0.3 0.6h2.800l0.800 0.900h3.800v4.900h-7.400z" fill="#bcd3ec"/></svg>
<div class="t" style="top:196px;font-size:7.29px;line-height:9px;color:#3a3f48;left:777.60px;letter-spacing:-0.147px;">Folder_Name</div>
<div class="t" style="top:197px;font-size:6.59px;line-height:7px;color:#3a3f48;left:858.20px;letter-spacing:-0.113px;">Modified 00 May 20xx 7 PM</div>
<div class="t" style="top:197px;font-size:6.51px;line-height:7px;color:#3fcb3a;left:978.20px;letter-spacing:-0.136px;">124.75 MB</div>
<div class="abs" style="left:753.50px;top:211.00px;width:250.00px;height:1.00px;background:#edf1f7;"></div>
<svg class="abs" style="left:763.00px;top:220.30px" width="8" height="7" viewBox="0 0 8 7"><path d="M0.3 0.6h2.800l0.800 0.900h3.800v4.900h-7.400z" fill="#bcd3ec"/></svg>
<div class="t" style="top:219px;font-size:7.29px;line-height:9px;color:#3a3f48;left:777.60px;letter-spacing:-0.147px;">Folder_Name</div>
<div class="t" style="top:221px;font-size:6.59px;line-height:7px;color:#3a3f48;left:858.20px;letter-spacing:-0.113px;">Modified 00 May 20xx 7 PM</div>
<div class="t" style="top:220px;font-size:6.51px;line-height:7px;color:#3fcb3a;left:978.20px;letter-spacing:-0.136px;">124.75 MB</div>
<div class="t" style="top:261px;font-size:8.56px;line-height:10px;color:#e4e8ee;left:753.00px;letter-spacing:-0.138px;-webkit-text-stroke:0.22px #e4e8ee;">Recent files</div>
<svg class="abs" style="left:800.80px;top:261.70px" width="9" height="9" viewBox="0 0 9 9"><circle cx="4.500" cy="4.500" r="4.100" fill="#3fd13a"/><path d="M4.500 2.900v3.200M2.900 4.500h3.200" stroke="#27395b" stroke-width="1.300"/></svg>
<div class="abs" style="left:751.40px;top:278.70px;width:122.20px;height:121.60px;background:#ffffff;border-radius:2px;"></div>
<div class="abs" style="left:751.40px;top:278.70px;width:122.20px;height:87.50px;background:#a87ff6;border-radius:2px 2px 0 0;"></div>
<svg class="abs" style="left:781px;top:310px" width="26" height="26" viewBox="781 310 26 26"><rect x="782" y="310.900" width="23.800" height="24.100" rx="6" fill="#fff"/></svg>
<svg class="abs" style="left:787.4px;top:316.6px" width="13" height="13" viewBox="0 0 13 13"><rect x="0.6" y="1.4" width="11.8" height="10.8" rx="1.6" fill="#a87ff6"/><rect x="0.6" y="1.400" width="11.8" height="2.000" fill="#c4a8fa"/><path d="M5.600 5h1.800v2h1.600l-2.500 2.600-2.500-2.600h1.600z" fill="#fff"/></svg>
<div class="t" style="top:311px;font-size:22.20px;line-height:25px;color:#ffffff;left:809.00px;font-weight:700;transform-origin:0 50%;transform:scaleX(0.895);">.zip</div>
<div class="t" style="top:373px;font-size:7.37px;line-height:9px;color:#3a3f48;left:761.20px;letter-spacing:-0.134px;">File_Name.zip</div>
<div class="t" style="top:384px;font-size:6.50px;line-height:7px;color:#a9c4e4;left:761.20px;letter-spacing:-0.118px;">Added 5 Aug 20xx</div>
<div class="abs" style="left:862.20px;top:379.60px;width:1.20px;height:1.20px;background:#a9c4e4;border-radius:50%;"></div>
<div class="abs" style="left:862.20px;top:382.20px;width:1.20px;height:1.20px;background:#a9c4e4;border-radius:50%;"></div>
<div class="abs" style="left:862.20px;top:384.80px;width:1.20px;height:1.20px;background:#a9c4e4;border-radius:50%;"></div>
<div class="abs" style="left:881.40px;top:278.70px;width:130.00px;height:122.00px;background:linear-gradient(174deg,#8e8e8f 0%,#858586 40%,#6c6c6d 100%);border-radius:2.5px;"></div>
<div class="t" style="top:371px;font-size:7.35px;line-height:9px;color:#ffffff;left:889.80px;letter-spacing:-0.132px;">File_Name.jpg</div>
<div class="t" style="top:383px;font-size:6.50px;line-height:7px;color:#e8e8e8;left:889.60px;letter-spacing:-0.118px;">Added 5 Aug 20xx</div>
<div class="abs" style="left:990.10px;top:377.85px;width:1.50px;height:1.50px;background:#ffffff;border-radius:50%;"></div>
<div class="abs" style="left:990.10px;top:380.85px;width:1.50px;height:1.50px;background:#ffffff;border-radius:50%;"></div>
<div class="abs" style="left:990.10px;top:383.85px;width:1.50px;height:1.50px;background:#ffffff;border-radius:50%;"></div>
<div class="abs" style="left:751.40px;top:409.00px;width:122.20px;height:87.60px;background:linear-gradient(174deg,#8e8e8f 0%,#858586 40%,#6c6c6d 100%) 0 0/100% 122px no-repeat;border-radius:2.5px 2.5px 0 0;"></div>
<div class="abs" style="left:882.00px;top:409.00px;width:130.00px;height:87.60px;background:#fdc800;border-radius:2px 0 0 0;"></div>
<svg class="abs" style="left:911px;top:440px" width="26" height="26" viewBox="911 440 26 26"><rect x="912.300" y="441.300" width="23.800" height="23.800" rx="6" fill="#fff"/></svg>
<svg class="abs" style="left:918.3px;top:447.2px" width="11.500" height="13.400" viewBox="0 0 12 14"><path d="M1.400 0.800h6l3.200 3.200v8.800h-9.200z" fill="#fdc800"/><rect x="3.400" y="6" width="5" height="0.900" fill="#fff"/><rect x="3.400" y="8" width="5" height="0.900" fill="#fff"/><rect x="3.400" y="10" width="3" height="0.900" fill="#fff"/></svg>
<div class="t" style="top:442px;font-size:22.20px;line-height:25px;color:#ffffff;left:939.40px;font-weight:700;transform-origin:0 50%;transform:scaleX(0.915);">.txt</div>
<div class="abs" style="left:828.70px;top:391.30px;width:68.30px;height:53.30px;background:#ffffff;border-radius:2px;box-shadow:0 1px 2px rgba(20,40,80,0.18);"></div>
<svg class="abs" style="left:859.7px;top:388.4px" width="6" height="4" viewBox="0 0 6 4"><path d="M0 3.600l3-3 3 3z" fill="#fff"/></svg>
<svg class="abs" style="left:835.3px;top:398.6px" width="8" height="9" viewBox="0 0 8 9"><path d="M3 0.400h2v3h1.800l-2.800 2.800-2.800-2.800h1.800z" fill="#1a8ff0"/><rect x="1" y="7.200" width="6" height="1" fill="#1a8ff0"/></svg>
<div class="t" style="top:399px;font-size:6.49px;line-height:7px;color:#3f4550;left:849.20px;letter-spacing:-0.138px;-webkit-text-stroke:0.15px #3f4550;">Download</div>
<svg class="abs" style="left:835.3px;top:414.4px" width="8" height="8" viewBox="0 0 8 8"><path d="M0.800 7.200l0.400-1.900 4.300-4.300 1.500 1.500-4.300 4.300z" fill="#c4d6ec"/></svg>
<div class="t" style="top:415px;font-size:6.25px;line-height:7px;color:#b4cae6;left:849.70px;letter-spacing:-0.123px;">Edit</div>
<svg class="abs" style="left:835.5px;top:429.6px" width="8" height="9" viewBox="0 0 8 9"><rect x="1.400" y="2.400" width="5.200" height="6.200" rx="0.700" fill="#c4d6ec"/><rect x="0.800" y="1.100" width="6.400" height="0.900" fill="#c4d6ec"/><rect x="2.900" y="0.300" width="2.200" height="0.900" fill="#c4d6ec"/></svg>
<div class="t" style="top:430px;font-size:6.23px;line-height:7px;color:#b4cae6;left:849.70px;letter-spacing:-0.122px;">Delete</div>
<svg class="abs" style="left:622.30px;top:509.50px" width="123.42" height="82.04" viewBox="0 0 411.0 273.2">
<rect x="0" y="0" width="411.0" height="273.2" rx="7" fill="#ffffff"/>
<path d="M0 25.3h411.0v240.9a7.0 7.0 0 0 1 -7.0 7.0h-397.0a7.0 7.0 0 0 1 -7.0 -7.0z" fill="#fcfdff"/>
<text x="9.60" y="15.66" font-size="7.24" fill="#596273" letter-spacing="-0.153">Sales</text>
<rect x="0" y="24.8" width="411.0" height="1" fill="#e8edf5"/>
<circle cx="401" cy="9.2" r="0.95" fill="#a9c4e4"/>
<circle cx="401" cy="12.4" r="0.95" fill="#a9c4e4"/>
<circle cx="401" cy="15.6" r="0.95" fill="#a9c4e4"/>
<g transform="translate(0.0 0)">
<rect x="16" y="44" width="5.5" height="5.5" rx="1" fill="#26b7c9"/>
<rect x="71.5" y="44" width="5.5" height="5.5" rx="2.7" fill="#7bc62b"/>
<rect x="132.5" y="44" width="5.5" height="5.5" rx="2.7" fill="#ffd23f"/>
<text x="27.60" y="50.65" font-size="11.33" fill="#333a48" letter-spacing="-0.238">2,382</text>
<text x="83.30" y="50.67" font-size="11.37" fill="#333a48" letter-spacing="-0.235">53,015</text>
<text x="144.00" y="50.70" font-size="11.46" fill="#333a48" letter-spacing="-0.229">$185,415</text>
<text x="27.80" y="60.04" font-size="6.00" fill="#a9c4e4" letter-spacing="-0.127">Sales</text>
<text x="83.40" y="60.06" font-size="6.05" fill="#a9c4e4" letter-spacing="-0.132">Views</text>
<text x="144.00" y="60.17" font-size="6.38" fill="#a9c4e4" letter-spacing="-0.162">Money</text>
</g>
<rect x="313" y="40.4" width="49.8" height="12.2" rx="6.1" fill="#dcecfb"/>
<rect x="367.4" y="40.4" width="29.8" height="12.2" rx="6.1" fill="#dcecfb"/>
<text x="317.20" y="48.83" font-size="6.57" fill="#2a8ae0" letter-spacing="-0.126">Sale Amount</text>
<text x="371.80" y="48.86" font-size="6.66" fill="#2a8ae0" letter-spacing="-0.152">Year</text>
<path d="M356.2 45.8h3.4l-1.7 2z" fill="#2a8ae0"/>
<path d="M387.8 45.8h3.4l-1.7 2z" fill="#2a8ae0"/>
<rect x="30" y="90.60" width="371.6" height="1.4" fill="#e3e8f0"/>
<text x="10.10" y="94.38" font-size="6.40" fill="#b5c3d6">30k</text>
<rect x="30" y="141.87" width="371.6" height="1.4" fill="#e3e8f0"/>
<text x="10.10" y="145.65" font-size="6.40" fill="#b5c3d6">20k</text>
<rect x="30" y="193.14" width="371.6" height="1.4" fill="#e3e8f0"/>
<text x="10.10" y="196.92" font-size="6.40" fill="#b5c3d6">10k</text>
<rect x="30" y="244.41" width="371.6" height="1.4" fill="#e3e8f0"/>
<text x="10.10" y="248.19" font-size="6.40" fill="#b5c3d6">0</text>
<path d="M44.90 244.80v-68.00a1.6 1.6 0 0 1 1.6-1.6h6.60a1.6 1.6 0 0 1 1.6 1.6v68.00z" fill="#7bc62b"/>
<rect x="44.90" y="210.50" width="9.80" height="34.30" fill="#26b7c9"/>
<path d="M75.05 244.80v-56.30a1.6 1.6 0 0 1 1.6-1.6h6.60a1.6 1.6 0 0 1 1.6 1.6v56.30z" fill="#7bc62b"/>
<rect x="75.05" y="201.00" width="9.80" height="43.80" fill="#26b7c9"/>
<path d="M105.20 244.80v-106.40a1.6 1.6 0 0 1 1.6-1.6h6.60a1.6 1.6 0 0 1 1.6 1.6v106.40z" fill="#7bc62b"/>
<rect x="105.20" y="181.80" width="9.80" height="63.00" fill="#26b7c9"/>
<path d="M135.35 244.80v-16.00a1.6 1.6 0 0 1 1.6-1.6h6.60a1.6 1.6 0 0 1 1.6 1.6v16.00z" fill="#7bc62b"/>
<rect x="135.35" y="237.30" width="9.80" height="7.50" fill="#26b7c9"/>
<path d="M165.50 244.80v-42.00a1.6 1.6 0 0 1 1.6-1.6h6.60a1.6 1.6 0 0 1 1.6 1.6v42.00z" fill="#7bc62b"/>
<rect x="165.50" y="226.10" width="9.80" height="18.70" fill="#26b7c9"/>
<path d="M195.65 244.80v-56.20a1.6 1.6 0 0 1 1.6-1.6h6.60a1.6 1.6 0 0 1 1.6 1.6v56.20z" fill="#7bc62b"/>
<rect x="195.65" y="210.60" width="9.80" height="34.20" fill="#26b7c9"/>
<path d="M225.80 244.80v-86.40a1.6 1.6 0 0 1 1.6-1.6h6.60a1.6 1.6 0 0 1 1.6 1.6v86.40z" fill="#7bc62b"/>
<rect x="225.80" y="205.80" width="9.80" height="39.00" fill="#26b7c9"/>
<path d="M255.95 244.80v-33.70a1.6 1.6 0 0 1 1.6-1.6h6.60a1.6 1.6 0 0 1 1.6 1.6v33.70z" fill="#7bc62b"/>
<rect x="255.95" y="235.80" width="9.80" height="9.00" fill="#26b7c9"/>
<path d="M286.10 244.80v-86.70a1.6 1.6 0 0 1 1.6-1.6h6.60a1.6 1.6 0 0 1 1.6 1.6v86.70z" fill="#7bc62b"/>
<rect x="286.10" y="209.60" width="9.80" height="35.20" fill="#26b7c9"/>
<path d="M316.25 244.80v-56.40a1.6 1.6 0 0 1 1.6-1.6h6.60a1.6 1.6 0 0 1 1.6 1.6v56.40z" fill="#7bc62b"/>
<rect x="316.25" y="201.00" width="9.80" height="43.80" fill="#26b7c9"/>
<path d="M346.40 244.80v-42.10a1.6 1.6 0 0 1 1.6-1.6h6.60a1.6 1.6 0 0 1 1.6 1.6v42.10z" fill="#7bc62b"/>
<rect x="346.40" y="225.80" width="9.80" height="19.00" fill="#26b7c9"/>
<path d="M376.55 244.80v-77.80a1.6 1.6 0 0 1 1.6-1.6h6.60a1.6 1.6 0 0 1 1.6 1.6v77.80z" fill="#7bc62b"/>
<rect x="376.55" y="201.10" width="9.80" height="43.70" fill="#26b7c9"/>
<text x="49.80" y="259.78" font-size="6.40" fill="#b5c3d6" text-anchor="middle">Jan</text>
<text x="79.95" y="259.78" font-size="6.40" fill="#b5c3d6" text-anchor="middle">Feb</text>
<text x="110.10" y="259.78" font-size="6.40" fill="#b5c3d6" text-anchor="middle">Mar</text>
<text x="140.25" y="259.78" font-size="6.40" fill="#b5c3d6" text-anchor="middle">Apr</text>
<text x="170.40" y="259.78" font-size="6.40" fill="#b5c3d6" text-anchor="middle">May</text>
<text x="200.55" y="259.78" font-size="6.40" fill="#b5c3d6" text-anchor="middle">Jun</text>
<text x="230.70" y="259.78" font-size="6.40" fill="#b5c3d6" text-anchor="middle">Jul</text>
<text x="260.85" y="259.78" font-size="6.40" fill="#b5c3d6" text-anchor="middle">Aug</text>
<text x="291.00" y="259.78" font-size="6.40" fill="#b5c3d6" text-anchor="middle">Sep</text>
<text x="321.15" y="259.78" font-size="6.40" fill="#b5c3d6" text-anchor="middle">Oct</text>
<text x="351.30" y="259.78" font-size="6.40" fill="#b5c3d6" text-anchor="middle">Nov</text>
<text x="381.45" y="259.78" font-size="6.40" fill="#b5c3d6" text-anchor="middle">Dec</text>
<polyline points="30.5,238.9 49.8,234.9 80.0,222.0 110.2,207.6 140.3,167.3 170.5,189.7 200.7,139.5 230.7,137.3 260.8,154.7 291.0,172.2 321.1,162.7 351.3,159.3 381.5,140.5 401.6,125.7" fill="none" stroke="#ffd132" stroke-width="3.2" stroke-linejoin="round" stroke-linecap="round"/>
<path d="M227.6 169.4l3.2-3 3.2 3z" fill="#ffffff"/>
<rect x="200.1" y="169.2" width="61.6" height="37" rx="1.8" fill="#ffffff" stroke="#c3d3ea" stroke-width="1.2"/>
<text x="207.20" y="183.86" font-size="6.64" fill="#333a48" letter-spacing="-0.148">Views</text>
<text x="207.20" y="196.92" font-size="6.83" fill="#333a48" letter-spacing="-0.146">Sales</text>
<text x="232.50" y="184.08" font-size="7.28" fill="#7bc62b" letter-spacing="-0.153">18,146</text>
<text x="232.50" y="197.08" font-size="7.28" fill="#26b7c9" letter-spacing="-0.153">$6,146</text>
</svg>
<div class="abs" style="left:753.25px;top:510.50px;width:128.00px;height:84.00px;background:#ffffff;border-radius:2.5px;"></div>
<div class="abs" style="left:753.25px;top:530.60px;width:128.00px;height:63.90px;background:#fbfcfe;border-radius:0 0 2.5px 2.5px;"></div>
<div class="abs" style="left:753.25px;top:530.20px;width:128.00px;height:0.80px;background:#e2e8f1;"></div>
<div class="t" style="top:516px;font-size:7.29px;line-height:9px;color:#3a3f48;left:762.70px;letter-spacing:-0.159px;">Tasks</div>
<div class="abs" style="left:870.40px;top:516.45px;width:1.30px;height:1.30px;background:#7fb2e6;border-radius:50%;"></div>
<div class="abs" style="left:870.40px;top:519.75px;width:1.30px;height:1.30px;background:#7fb2e6;border-radius:50%;"></div>
<div class="abs" style="left:870.40px;top:523.05px;width:1.30px;height:1.30px;background:#7fb2e6;border-radius:50%;"></div>
<div class="t" style="top:538px;font-size:6.29px;line-height:7px;color:#a9c4e0;left:762.70px;letter-spacing:-0.127px;">Completed</div>
<div class="t" style="top:539px;font-size:6.05px;line-height:6px;color:#3a3f48;left:864.90px;letter-spacing:-0.230px;">41</div>
<div class="t" style="top:550px;font-size:6.86px;line-height:7px;color:#a9c4e0;left:762.70px;letter-spacing:-0.123px;">Total</div>
<div class="t" style="top:551px;font-size:6.02px;line-height:6px;color:#3a3f48;left:862.00px;letter-spacing:-0.172px;">154</div>
<div class="t" style="top:572px;font-size:6.26px;line-height:7px;color:#3a3f48;left:762.70px;letter-spacing:-0.121px;">Progress</div>
<div class="abs" style="left:762.70px;top:582.00px;width:93.40px;height:2.60px;background:#dcf1c6;border-radius:1.3px;"></div>
<div class="abs" style="left:762.70px;top:582.00px;width:36.80px;height:2.60px;background:#6cc71a;border-radius:1.3px;"></div>
<div class="t" style="top:578px;font-size:5.43px;line-height:6px;color:#3a3f48;left:859.80px;letter-spacing:-0.184px;">20%</div>
<svg class="abs" style="left:888px;top:511px" width="102" height="67" viewBox="888 511 102 67">
<rect x="888.1" y="511.1" width="101.3" height="65.9" rx="2.5" fill="#ffffff"/>
<path d="M888.1 526.4h101.3v48.1a2.5 2.5 0 0 1-2.5 2.5h-96.3a2.5 2.5 0 0 1-2.500-2.500z" fill="#fbfcfe"/>
<rect x="888.1" y="526" width="101.3" height="0.8" fill="#e2e8f1"/>
<text x="895.60" y="521.11" font-size="5.63" fill="#3a3f48" letter-spacing="-0.121">Sales</text>
<circle cx="981.1" cy="516.3" r="0.6" fill="#7fb2e6"/>
<circle cx="981.1" cy="519.0" r="0.6" fill="#7fb2e6"/>
<circle cx="981.1" cy="521.7" r="0.6" fill="#7fb2e6"/>
<text x="895.60" y="537.71" font-size="5.02" fill="#a9c4e0" letter-spacing="-0.092">This month</text>
<text x="984.00" y="537.77" font-size="5.20" fill="#545b69" text-anchor="end">$6,123</text>
<text x="895.60" y="546.33" font-size="5.39" fill="#a9c4e0" letter-spacing="-0.096">Total</text>
<text x="984.00" y="546.27" font-size="5.20" fill="#545b69" text-anchor="end">$513,143</text>
<rect x="895.40" y="559.90" width="2" height="16.50" rx="0.800" fill="#26b7c9"/>
<rect x="902.99" y="566.50" width="2" height="9.90" rx="0.800" fill="#26b7c9"/>
<rect x="910.58" y="568.00" width="2" height="8.40" rx="0.800" fill="#26b7c9"/>
<rect x="918.17" y="561.90" width="2" height="14.50" rx="0.800" fill="#26b7c9"/>
<rect x="925.76" y="554.00" width="2" height="22.40" rx="0.800" fill="#26b7c9"/>
<rect x="933.35" y="566.50" width="2" height="9.90" rx="0.800" fill="#26b7c9"/>
<rect x="940.94" y="550.80" width="2" height="25.60" rx="0.800" fill="#26b7c9"/>
<rect x="948.53" y="565.50" width="2" height="10.90" rx="0.800" fill="#26b7c9"/>
<rect x="956.12" y="561.30" width="2" height="15.10" rx="0.800" fill="#26b7c9"/>
<rect x="963.71" y="553.00" width="2" height="23.40" rx="0.800" fill="#26b7c9"/>
<rect x="971.30" y="558.00" width="2" height="18.40" rx="0.800" fill="#26b7c9"/>
<rect x="978.89" y="567.10" width="2" height="9.30" rx="0.800" fill="#26b7c9"/>
</svg>
<div class="t" style="top:603px;font-size:6.62px;line-height:7px;color:#e9ecf1;left:894.60px;letter-spacing:-0.130px;">Country</div>
<svg class="abs" style="left:894.7px;top:615.8px" width="7.600" height="5.500" viewBox="0 0 8 6"><rect width="8" height="6" fill="#f4e4e6"/><rect y="0" width="8" height="0.850" fill="#e0505a"/><rect y="1.700" width="8" height="0.850" fill="#e0505a"/><rect y="3.400" width="8" height="0.850" fill="#e0505a"/><rect y="5.100" width="8" height="0.900" fill="#e0505a"/><rect width="3.600" height="3.200" fill="#5a62b8"/></svg>
<div class="t" style="top:614px;font-size:7.48px;line-height:9px;color:#e9ecf1;left:908.30px;letter-spacing:-0.126px;">United States</div>
<div class="abs" style="left:894.60px;top:627.00px;width:106.00px;height:0.90px;background:#3c9a3a;"></div>
<div class="t" style="left:13px;top:680px;font-size:18.42px;line-height:20px;color:#eceef1;-webkit-text-stroke:0.28px #eceef1;z-index:11;transform-origin:0 0;transform:rotate(-90deg);letter-spacing:0px;opacity:0.95">Adobe Stock | #219034063</div>
<div class="wm" style="left:-159px;top:-62px">Adobe Stock</div>
<div class="wm" style="left:172px;top:-58px">Adobe Stock</div>
<div class="wm" style="left:503px;top:-54px">Adobe Stock</div>
<div class="wm" style="left:834px;top:-49px">Adobe Stock</div>
<div class="wm" style="left:-34px;top:-19px">Adobe Stock</div>
<div class="wm" style="left:297px;top:-14px">Adobe Stock</div>
<div class="wm" style="left:628px;top:-10px">Adobe Stock</div>
<div class="wm" style="left:959px;top:-6px">Adobe Stock</div>
<div class="wm" style="left:11px;top:108px">Adobe Stock</div>
<div class="wm" style="left:342px;top:112px">Adobe Stock</div>
<div class="wm" style="left:673px;top:117px">Adobe Stock</div>
<div class="wm" style="left:136px;top:152px">Adobe Stock</div>
<div class="wm" style="left:467px;top:156px">Adobe Stock</div>
<div class="wm" style="left:798px;top:160px">Adobe Stock</div>
<div class="wm" style="left:-150px;top:274px">Adobe Stock</div>
<div class="wm" style="left:181px;top:278px">Adobe Stock</div>
<div class="wm" style="left:512px;top:283px">Adobe Stock</div>
<div class="wm" style="left:843px;top:288px">Adobe Stock</div>
<div class="wm" style="left:-25px;top:318px">Adobe Stock</div>
<div class="wm" style="left:306px;top:322px">Adobe Stock</div>
<div class="wm" style="left:637px;top:326px">Adobe Stock</div>
<div class="wm" style="left:968px;top:331px">Adobe Stock</div>
<div class="wm" style="left:20px;top:444px">Adobe Stock</div>
<div class="wm" style="left:351px;top:449px">Adobe Stock</div>
<div class="wm" style="left:682px;top:454px">Adobe Stock</div>
<div class="wm" style="left:145px;top:488px">Adobe Stock</div>
<div class="wm" style="left:476px;top:492px">Adobe Stock</div>
<div class="wm" style="left:807px;top:497px">Adobe Stock</div>
<div class="wm" style="left:-141px;top:610px">Adobe Stock</div>
<div class="wm" style="left:190px;top:615px">Adobe Stock</div>
<div class="wm" style="left:521px;top:620px">Adobe Stock</div>
<div class="wm" style="left:852px;top:624px">Adobe Stock</div>
<div class="wm" style="left:-16px;top:654px">Adobe Stock</div>
<div class="wm" style="left:315px;top:658px">Adobe Stock</div>
<div class="wm" style="left:646px;top:663px">Adobe Stock</div>
<div class="wm" style="left:977px;top:668px">Adobe Stock</div>
<div class="abs" style="left:753.50px;top:120.00px;width:246.50px;height:115.60px;overflow:hidden;z-index:12;border-radius:2px"><div class="wm wd" style="left:-80px;top:-3px">Adobe Stock</div><div class="wm wd" style="left:44px;top:40px">Adobe Stock</div><div class="wm wd" style="left:90px;top:168px">Adobe Stock</div></div>
<div class="abs" style="left:751.40px;top:366.20px;width:122.20px;height:34.10px;overflow:hidden;z-index:12;border-radius:2px"><div class="wm wd" style="left:92px;top:-79px">Adobe Stock</div><div class="wm wd" style="left:-114px;top:-40px">Adobe Stock</div><div class="wm wd" style="left:-69px;top:87px">Adobe Stock</div></div>
<div class="abs" style="left:828.70px;top:391.30px;width:68.30px;height:53.30px;overflow:hidden;z-index:12;border-radius:2px"><div class="wm wd" style="left:-192px;top:-65px">Adobe Stock</div><div class="wm wd" style="left:-147px;top:62px">Adobe Stock</div><div class="wm wd" style="left:-22px;top:106px">Adobe Stock</div></div>
<div class="abs" style="left:622.30px;top:509.50px;width:123.40px;height:82.00px;overflow:hidden;z-index:12;border-radius:2px"><div class="wm wd" style="left:60px;top:-56px">Adobe Stock</div><div class="wm wd" style="left:-146px;top:-17px">Adobe Stock</div><div class="wm wd" style="left:-101px;top:110px">Adobe Stock</div></div>
<div class="abs" style="left:753.25px;top:510.50px;width:128.00px;height:84.00px;overflow:hidden;z-index:12;border-radius:2px"><div class="wm wd" style="left:-71px;top:-57px">Adobe Stock</div><div class="wm wd" style="left:54px;top:-14px">Adobe Stock</div><div class="wm wd" style="left:99px;top:114px">Adobe Stock</div></div>
<div class="abs" style="left:888.10px;top:511.10px;width:101.30px;height:65.90px;overflow:hidden;z-index:12;border-radius:2px"><div class="wm wd" style="left:-81px;top:-14px">Adobe Stock</div><div class="wm wd" style="left:-36px;top:113px">Adobe Stock</div></div>
</div>
</body>
</html>
